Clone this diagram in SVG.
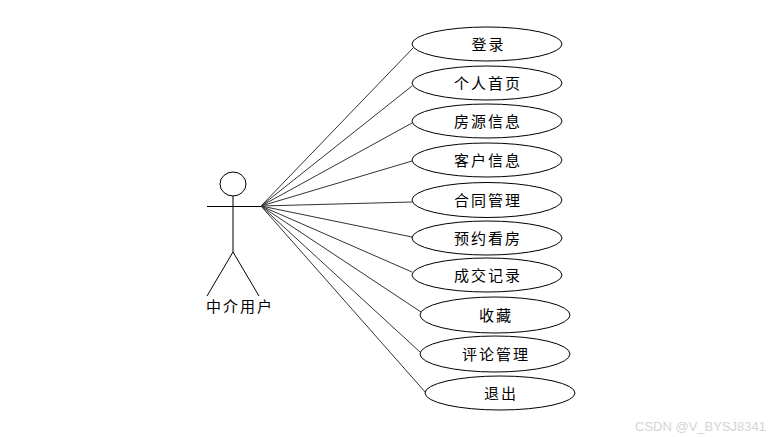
<svg xmlns="http://www.w3.org/2000/svg" width="779" height="437" viewBox="0 0 779 437">
<style>
.uc ellipse{fill:#fff;stroke:#000;stroke-width:1}
.t{font-family:"Noto Sans CJK SC","Liberation Sans",sans-serif;font-size:15px;fill:#000;text-anchor:middle;letter-spacing:2px}
.act line,.act ellipse{stroke:#000;stroke-width:1;fill:#fff}
#connectors line{stroke:#333;stroke-width:1}
.wm{font-family:"Liberation Sans",sans-serif;font-size:13px;fill:#d4d4d4}
</style>
<rect width="779" height="437" fill="#fff"/>
<g id="connectors">
<line x1="261" y1="206" x2="413" y2="48"/>
<line x1="261" y1="206" x2="412" y2="86"/>
<line x1="261" y1="206" x2="412" y2="123"/>
<line x1="261" y1="206" x2="412" y2="161"/>
<line x1="261" y1="206" x2="412" y2="202"/>
<line x1="261" y1="206" x2="412" y2="237"/>
<line x1="261" y1="206" x2="412" y2="272"/>
<line x1="261" y1="206" x2="421" y2="312"/>
<line x1="261" y1="206" x2="420" y2="352"/>
<line x1="261" y1="206" x2="426" y2="393"/>
</g>
<g id="actor" class="act">
<ellipse cx="233" cy="184" rx="13" ry="12"/>
<line x1="233" y1="196" x2="233" y2="252"/>
<line x1="207" y1="206.5" x2="261" y2="206.5"/>
<line x1="233" y1="252" x2="207" y2="296"/>
<line x1="233" y1="252" x2="259" y2="296"/>
<text class="t" x="240" y="312">中介用户</text>
</g>
<g id="uc1" class="uc"><ellipse cx="487" cy="44" rx="75" ry="17"/><text class="t" x="488.5" y="49.5">登录</text></g>
<g id="uc2" class="uc"><ellipse cx="487" cy="83" rx="75" ry="17"/><text class="t" x="488" y="88.5">个人首页</text></g>
<g id="uc3" class="uc"><ellipse cx="487" cy="121" rx="75" ry="17"/><text class="t" x="488" y="126.5">房源信息</text></g>
<g id="uc4" class="uc"><ellipse cx="487" cy="160" rx="75" ry="17"/><text class="t" x="488" y="165.5">客户信息</text></g>
<g id="uc5" class="uc"><ellipse cx="487" cy="200" rx="75" ry="17.5"/><text class="t" x="488" y="205.5">合同管理</text></g>
<g id="uc6" class="uc"><ellipse cx="487" cy="238" rx="75" ry="17"/><text class="t" x="488" y="243.5">预约看房</text></g>
<g id="uc7" class="uc"><ellipse cx="487" cy="275" rx="75" ry="17"/><text class="t" x="488" y="280.5">成交记录</text></g>
<g id="uc8" class="uc"><ellipse cx="495" cy="315" rx="75" ry="18"/><text class="t" x="496" y="320.5">收藏</text></g>
<g id="uc9" class="uc"><ellipse cx="495" cy="354" rx="75" ry="18"/><text class="t" x="496" y="359.5">评论管理</text></g>
<g id="uc10" class="uc"><ellipse cx="500" cy="393" rx="75" ry="17"/><text class="t" x="501" y="398.5">退出</text></g>
<text class="wm" x="635" y="431">CSDN @V_BYSJ8341</text>
</svg>
